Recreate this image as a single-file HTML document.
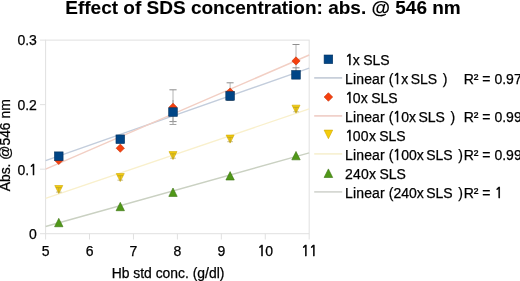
<!DOCTYPE html>
<html><head><meta charset="utf-8"><style>html,body{margin:0;padding:0;background:#fff;width:520px;height:281px;overflow:hidden}svg{display:block}</style></head>
<body><svg width="520" height="281" viewBox="0 0 520 281">
<g stroke="#e0e0e0" stroke-width="1" fill="none"><rect x="45.60" y="40.11" width="263.58" height="193.59"/><line x1="40" y1="233.70" x2="45.60" y2="233.70"/><line x1="40" y1="169.17" x2="45.60" y2="169.17"/><line x1="40" y1="104.64" x2="45.60" y2="104.64"/><line x1="40" y1="40.11" x2="45.60" y2="40.11"/><line x1="45.60" y1="233.70" x2="45.60" y2="239.5"/><line x1="89.53" y1="233.70" x2="89.53" y2="239.5"/><line x1="133.46" y1="233.70" x2="133.46" y2="239.5"/><line x1="177.39" y1="233.70" x2="177.39" y2="239.5"/><line x1="221.32" y1="233.70" x2="221.32" y2="239.5"/><line x1="265.25" y1="233.70" x2="265.25" y2="239.5"/><line x1="309.18" y1="233.70" x2="309.18" y2="239.5"/></g><line x1="45.60" y1="160.70" x2="309.18" y2="68.20" stroke="#c3cddc" stroke-width="1.4"/><line x1="45.60" y1="169.10" x2="309.18" y2="55.00" stroke="#f2cfc4" stroke-width="1.4"/><line x1="45.60" y1="198.30" x2="309.18" y2="108.90" stroke="#f9f0cc" stroke-width="1.4"/><line x1="45.60" y1="226.50" x2="309.18" y2="152.80" stroke="#cad1c2" stroke-width="1.4"/><g stroke="#8e8e8e" stroke-width="1"><line x1="173.00" y1="89.80" x2="173.00" y2="121.60" stroke="#b4b4b4"/><line x1="169.40" y1="89.80" x2="176.60" y2="89.80"/><line x1="169.40" y1="121.60" x2="176.60" y2="121.60"/></g><g stroke="#a4a4a4" stroke-width="1"><line x1="173.00" y1="100.00" x2="173.00" y2="124.50" stroke="#a4a4a4"/><line x1="169.60" y1="124.50" x2="176.40" y2="124.50"/></g><g stroke="#8e8e8e" stroke-width="1"><line x1="230.11" y1="82.80" x2="230.11" y2="100.50" stroke="#b4b4b4"/><line x1="226.61" y1="82.80" x2="233.61" y2="82.80"/><line x1="226.61" y1="100.50" x2="233.61" y2="100.50"/></g><g stroke="#8e8e8e" stroke-width="1"><line x1="296.00" y1="44.50" x2="296.00" y2="76.70" stroke="#b4b4b4"/><line x1="292.50" y1="44.50" x2="299.50" y2="44.50"/><line x1="292.50" y1="76.70" x2="299.50" y2="76.70"/></g><g stroke="#8e8e8e" stroke-width="1"><line x1="296.00" y1="67.80" x2="296.00" y2="78.00" stroke="#b4b4b4"/><line x1="292.50" y1="67.80" x2="299.50" y2="67.80"/><line x1="292.50" y1="78.00" x2="299.50" y2="78.00"/></g><polygon points="54.58,226.74 62.98,226.74 58.78,218.34" fill="#509818" stroke="#3a7410" stroke-width="0.6" stroke-linejoin="miter"/><polygon points="116.08,210.73 124.48,210.73 120.28,202.33" fill="#509818" stroke="#3a7410" stroke-width="0.6" stroke-linejoin="miter"/><polygon points="168.80,196.41 177.20,196.41 173.00,188.01" fill="#509818" stroke="#3a7410" stroke-width="0.6" stroke-linejoin="miter"/><polygon points="225.91,180.02 234.31,180.02 230.11,171.62" fill="#509818" stroke="#3a7410" stroke-width="0.6" stroke-linejoin="miter"/><polygon points="291.80,159.82 300.20,159.82 296.00,151.42" fill="#509818" stroke="#3a7410" stroke-width="0.6" stroke-linejoin="miter"/><polygon points="54.78,185.50 62.78,185.50 58.78,193.50" fill="#f4cc0c" stroke="#cfa800" stroke-width="0.6" stroke-linejoin="miter"/><polygon points="116.28,173.56 124.28,173.56 120.28,181.56" fill="#f4cc0c" stroke="#cfa800" stroke-width="0.6" stroke-linejoin="miter"/><polygon points="169.00,151.62 177.00,151.62 173.00,159.62" fill="#f4cc0c" stroke="#cfa800" stroke-width="0.6" stroke-linejoin="miter"/><polygon points="226.11,135.10 234.11,135.10 230.11,143.10" fill="#f4cc0c" stroke="#cfa800" stroke-width="0.6" stroke-linejoin="miter"/><polygon points="292.00,105.16 300.00,105.16 296.00,113.16" fill="#f4cc0c" stroke="#cfa800" stroke-width="0.6" stroke-linejoin="miter"/><polygon points="58.78,156.31 62.93,160.46 58.78,164.61 54.63,160.46" fill="#f5400e" stroke="#c8320a" stroke-width="0.6" stroke-linejoin="miter"/><polygon points="120.28,144.05 124.43,148.20 120.28,152.35 116.13,148.20" fill="#f5400e" stroke="#c8320a" stroke-width="0.6" stroke-linejoin="miter"/><polygon points="173.00,103.14 177.15,107.29 173.00,111.44 168.85,107.29" fill="#f5400e" stroke="#c8320a" stroke-width="0.6" stroke-linejoin="miter"/><polygon points="230.11,87.97 234.26,92.12 230.11,96.27 225.96,92.12" fill="#f5400e" stroke="#c8320a" stroke-width="0.6" stroke-linejoin="miter"/><polygon points="296.00,56.80 300.15,60.95 296.00,65.10 291.85,60.95" fill="#f5400e" stroke="#c8320a" stroke-width="0.6" stroke-linejoin="miter"/><rect x="54.48" y="151.90" width="8.60" height="8.60" fill="#004586" stroke="#00305e" stroke-width="0.6" stroke-linejoin="miter"/><rect x="115.98" y="134.93" width="8.60" height="8.60" fill="#004586" stroke="#00305e" stroke-width="0.6" stroke-linejoin="miter"/><rect x="168.70" y="107.76" width="8.60" height="8.60" fill="#004586" stroke="#00305e" stroke-width="0.6" stroke-linejoin="miter"/><rect x="225.81" y="91.63" width="8.60" height="8.60" fill="#004586" stroke="#00305e" stroke-width="0.6" stroke-linejoin="miter"/><rect x="291.70" y="70.53" width="8.60" height="8.60" fill="#004586" stroke="#00305e" stroke-width="0.6" stroke-linejoin="miter"/><g opacity="0.55" stroke="#9a8a3a" stroke-width="1"><line x1="58.78" y1="187.70" x2="58.78" y2="192.10" stroke="#9a8a3a"/><line x1="55.98" y1="187.70" x2="61.58" y2="187.70"/><line x1="55.98" y1="192.10" x2="61.58" y2="192.10"/></g><g opacity="0.55" stroke="#9a8a3a" stroke-width="1"><line x1="120.28" y1="175.76" x2="120.28" y2="180.16" stroke="#9a8a3a"/><line x1="117.48" y1="175.76" x2="123.08" y2="175.76"/><line x1="117.48" y1="180.16" x2="123.08" y2="180.16"/></g><g opacity="0.55" stroke="#9a8a3a" stroke-width="1"><line x1="173.00" y1="153.82" x2="173.00" y2="158.22" stroke="#9a8a3a"/><line x1="170.20" y1="153.82" x2="175.80" y2="153.82"/><line x1="170.20" y1="158.22" x2="175.80" y2="158.22"/></g><g opacity="0.55" stroke="#9a8a3a" stroke-width="1"><line x1="230.11" y1="137.30" x2="230.11" y2="141.70" stroke="#9a8a3a"/><line x1="227.31" y1="137.30" x2="232.91" y2="137.30"/><line x1="227.31" y1="141.70" x2="232.91" y2="141.70"/></g><g opacity="0.55" stroke="#9a8a3a" stroke-width="1"><line x1="296.00" y1="107.36" x2="296.00" y2="111.76" stroke="#9a8a3a"/><line x1="293.20" y1="107.36" x2="298.80" y2="107.36"/><line x1="293.20" y1="111.76" x2="298.80" y2="111.76"/></g><rect x="324.10" y="55.00" width="8.60" height="8.60" fill="#004586" stroke="#00305e" stroke-width="0.6" stroke-linejoin="miter"/><line x1="314.2" y1="77.90" x2="342.2" y2="77.90" stroke="#c2cad6" stroke-width="1.6"/><polygon points="328.40,92.70 332.70,97.00 328.40,101.30 324.10,97.00" fill="#f5400e" stroke="#c8320a" stroke-width="0.6" stroke-linejoin="miter"/><line x1="314.2" y1="115.90" x2="342.2" y2="115.90" stroke="#efccc4" stroke-width="1.6"/><polygon points="324.10,130.10 332.70,130.10 328.40,138.70" fill="#f4cc0c" stroke="#cfa800" stroke-width="0.6" stroke-linejoin="miter"/><line x1="314.2" y1="153.90" x2="342.2" y2="153.90" stroke="#f6f0d0" stroke-width="1.6"/><polygon points="324.10,177.50 332.70,177.50 328.40,168.90" fill="#509818" stroke="#3a7410" stroke-width="0.6" stroke-linejoin="miter"/><line x1="314.2" y1="191.90" x2="342.2" y2="191.90" stroke="#d2d4ce" stroke-width="1.6"/>
<text x="65.3" y="13.9" style="font-family:'Liberation Sans',Arial,sans-serif;stroke:#000;stroke-width:0.25px;fill:#000;stroke-width:0.1px;font-weight:bold;font-size:19px">Effect of SDS concentration: abs. @ 546 nm</text><text x="36.9" y="44.81" text-anchor="end" style="font-family:'Liberation Sans',Arial,sans-serif;stroke:#000;stroke-width:0.25px;fill:#000;font-size:14px">0.3</text><text x="36.9" y="110.04" text-anchor="end" style="font-family:'Liberation Sans',Arial,sans-serif;stroke:#000;stroke-width:0.25px;fill:#000;font-size:14px">0.2</text><text x="36.9" y="174.57" text-anchor="end" style="font-family:'Liberation Sans',Arial,sans-serif;stroke:#000;stroke-width:0.25px;fill:#000;font-size:14px">0.<tspan style="font-family:NanumGothic,'Liberation Sans',sans-serif;font-size:13.5px;letter-spacing:-0.38px;stroke-width:0.6px" dx="0">1</tspan></text><text x="36.9" y="239.10" text-anchor="end" style="font-family:'Liberation Sans',Arial,sans-serif;stroke:#000;stroke-width:0.25px;fill:#000;font-size:14px">0</text><text x="45.60" y="255.8" text-anchor="middle" style="font-family:'Liberation Sans',Arial,sans-serif;stroke:#000;stroke-width:0.25px;fill:#000;font-size:14px">5</text><text x="89.53" y="255.8" text-anchor="middle" style="font-family:'Liberation Sans',Arial,sans-serif;stroke:#000;stroke-width:0.25px;fill:#000;font-size:14px">6</text><text x="133.46" y="255.8" text-anchor="middle" style="font-family:'Liberation Sans',Arial,sans-serif;stroke:#000;stroke-width:0.25px;fill:#000;font-size:14px">7</text><text x="177.39" y="255.8" text-anchor="middle" style="font-family:'Liberation Sans',Arial,sans-serif;stroke:#000;stroke-width:0.25px;fill:#000;font-size:14px">8</text><text x="221.32" y="255.8" text-anchor="middle" style="font-family:'Liberation Sans',Arial,sans-serif;stroke:#000;stroke-width:0.25px;fill:#000;font-size:14px">9</text><text x="265.25" y="255.8" text-anchor="middle" style="font-family:'Liberation Sans',Arial,sans-serif;stroke:#000;stroke-width:0.25px;fill:#000;font-size:14px"><tspan style="font-family:NanumGothic,'Liberation Sans',sans-serif;font-size:13.5px;letter-spacing:-0.38px;stroke-width:0.6px" dx="0">1</tspan>0</text><text x="309.18" y="255.8" text-anchor="middle" style="font-family:'Liberation Sans',Arial,sans-serif;stroke:#000;stroke-width:0.25px;fill:#000;font-size:14px"><tspan style="font-family:NanumGothic,'Liberation Sans',sans-serif;font-size:13.5px;letter-spacing:-0.38px;stroke-width:0.6px" dx="0">1</tspan><tspan style="font-family:NanumGothic,'Liberation Sans',sans-serif;font-size:13.5px;letter-spacing:-0.38px;stroke-width:0.6px" dx="0">1</tspan></text><text x="168" y="277.9" text-anchor="middle" style="font-family:'Liberation Sans',Arial,sans-serif;stroke:#000;stroke-width:0.25px;fill:#000;font-size:13.9px">Hb std conc. (g/dl)</text><text transform="translate(9.9 145.3) rotate(-90)" text-anchor="middle" style="font-family:'Liberation Sans',Arial,sans-serif;stroke:#000;stroke-width:0.25px;fill:#000;font-size:13.9px">Abs. @546 nm</text><text x="345" y="64.50" style="font-family:'Liberation Sans',Arial,sans-serif;stroke:#000;stroke-width:0.25px;fill:#000;font-size:14px"><tspan style="letter-spacing:0.25px"><tspan style="font-family:NanumGothic,'Liberation Sans',sans-serif;font-size:13.5px;letter-spacing:-0.68px;stroke-width:0.6px" dx="0.3">1</tspan>x</tspan><tspan dx="-0.8"> SLS</tspan></text><text x="345" y="83.50" style="font-family:'Liberation Sans',Arial,sans-serif;stroke:#000;stroke-width:0.25px;fill:#000;font-size:14px"><tspan style="letter-spacing:0.15px">Linear</tspan> (<tspan style="font-family:NanumGothic,'Liberation Sans',sans-serif;font-size:13.5px;letter-spacing:0.02px;stroke-width:0.6px" dx="-0.4">1</tspan>x<tspan dx="-1.4"> SLS</tspan><tspan dx="1.6"> )</tspan></text><text x="463.7" y="83.50" style="font-family:'Liberation Sans',Arial,sans-serif;stroke:#000;stroke-width:0.25px;fill:#000;font-size:14px">R² = 0.97</text><text x="345" y="102.50" style="font-family:'Liberation Sans',Arial,sans-serif;stroke:#000;stroke-width:0.25px;fill:#000;font-size:14px"><tspan style="letter-spacing:0.25px"><tspan style="font-family:NanumGothic,'Liberation Sans',sans-serif;font-size:13.5px;letter-spacing:-0.68px;stroke-width:0.6px" dx="0.3">1</tspan>0x</tspan><tspan dx="-0.8"> SLS</tspan></text><text x="345" y="121.50" style="font-family:'Liberation Sans',Arial,sans-serif;stroke:#000;stroke-width:0.25px;fill:#000;font-size:14px"><tspan style="letter-spacing:0.15px">Linear</tspan> (<tspan style="font-family:NanumGothic,'Liberation Sans',sans-serif;font-size:13.5px;letter-spacing:0.02px;stroke-width:0.6px" dx="-0.4">1</tspan>0x<tspan dx="-1.4"> SLS</tspan><tspan dx="1.6"> )</tspan></text><text x="463.7" y="121.50" style="font-family:'Liberation Sans',Arial,sans-serif;stroke:#000;stroke-width:0.25px;fill:#000;font-size:14px">R² = 0.99</text><text x="345" y="140.50" style="font-family:'Liberation Sans',Arial,sans-serif;stroke:#000;stroke-width:0.25px;fill:#000;font-size:14px"><tspan style="letter-spacing:0.25px"><tspan style="font-family:NanumGothic,'Liberation Sans',sans-serif;font-size:13.5px;letter-spacing:-0.68px;stroke-width:0.6px" dx="0.3">1</tspan>00x</tspan><tspan dx="-0.8"> SLS</tspan></text><text x="345" y="159.50" style="font-family:'Liberation Sans',Arial,sans-serif;stroke:#000;stroke-width:0.25px;fill:#000;font-size:14px"><tspan style="letter-spacing:0.15px">Linear</tspan> (<tspan style="font-family:NanumGothic,'Liberation Sans',sans-serif;font-size:13.5px;letter-spacing:0.02px;stroke-width:0.6px" dx="-0.4">1</tspan>00x<tspan dx="-1.4"> SLS</tspan><tspan dx="1.6"> )</tspan></text><text x="463.7" y="159.50" style="font-family:'Liberation Sans',Arial,sans-serif;stroke:#000;stroke-width:0.25px;fill:#000;font-size:14px">R² = 0.99</text><text x="345" y="178.50" style="font-family:'Liberation Sans',Arial,sans-serif;stroke:#000;stroke-width:0.25px;fill:#000;font-size:14px"><tspan style="letter-spacing:0.25px">240x</tspan><tspan dx="-0.8"> SLS</tspan></text><text x="345" y="197.50" style="font-family:'Liberation Sans',Arial,sans-serif;stroke:#000;stroke-width:0.25px;fill:#000;font-size:14px"><tspan style="letter-spacing:0.15px">Linear</tspan> (240x<tspan dx="-1.4"> SLS</tspan><tspan dx="1.6"> )</tspan></text><text x="463.7" y="197.50" style="font-family:'Liberation Sans',Arial,sans-serif;stroke:#000;stroke-width:0.25px;fill:#000;font-size:14px">R² = <tspan style="font-family:NanumGothic,'Liberation Sans',sans-serif;font-size:13.5px;letter-spacing:-0.68px;stroke-width:0.6px" dx="0.3">1</tspan></text>
</svg></body></html>
